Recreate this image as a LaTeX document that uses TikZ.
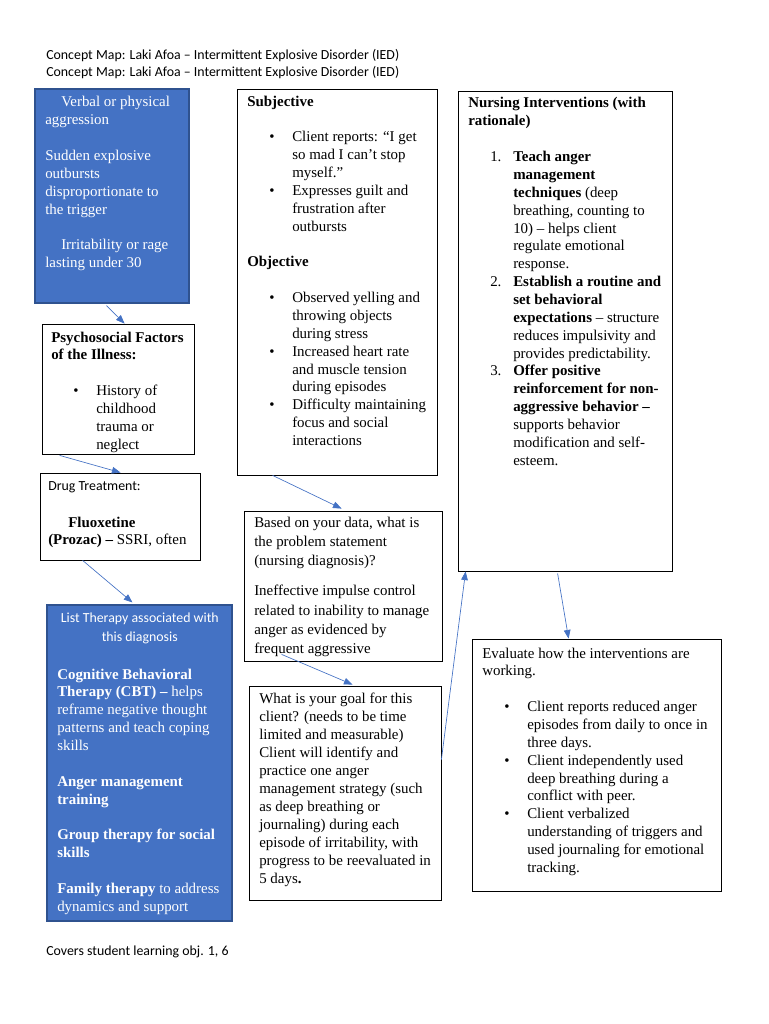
\documentclass[tikz,border=0pt]{standalone}
\usepackage{fontspec}
\setmainfont{Liberation Serif}
\newfontfamily\calfont{Carlito}
\usetikzlibrary{fit,calc,arrows.meta}

\definecolor{mapblue}{RGB}{68,114,196}
\definecolor{mapedge}{RGB}{47,82,143}

% bullet / number column and hanging indent
\newcommand{\itm}[1]{\hspace*{16.5pt}\makebox[17.25pt][l]{#1}}
\newcommand{\ind}{\hspace*{33.75pt}}

\tikzset{
  plainbox/.style={draw=black, line width=0.6pt, inner sep=0pt},
  bluebox/.style={draw=mapedge, fill=mapblue, line width=0.8pt, inner sep=0pt},
  txt/.style={anchor=base west, inner sep=0pt, font=\fontsize{11.2}{13.4}\selectfont},
  caltxt/.style={txt, font=\calfont\fontsize{10.4}{12.75}\selectfont},
  link/.style={draw=mapblue, line width=0.5pt, -{Triangle[length=6.5pt,width=5pt]}},
}

\begin{document}
\begin{tikzpicture}[x=0.75pt,y=-0.75pt]
\useasboundingbox (0,0) rectangle (768,1024);

% heading and footer
\node[caltxt] (head) at (46,60) {\parbox[t]{400pt}{Concept Map: Laki Afoa – Intermittent Explosive Disorder (IED)\\
  Concept Map: Laki Afoa – Intermittent Explosive Disorder (IED)}};
\node[caltxt] (foot) at (46,955) {Covers student learning obj. 1, 6};

% left column
\node[bluebox, fit={(35,89)(189,303)}] (aggr) {};
\node[txt, text=white] (aggrtxt) at (45,107) {\parbox[t]{300pt}{\hspace*{12pt}Verbal or physical\\
  aggression\\[13.4pt]
  Sudden explosive\\
  outbursts\\
  disproportionate to\\
  the trigger\\[13.4pt]
  \hspace*{12pt}Irritability or rage\\
  lasting under 30}};

\node[plainbox, fit={(42,324)(194,454)}] (psych) {};
\node[txt] (psychtxt) at (51,342) {\parbox[t]{300pt}{\textbf{Psychosocial Factors}\\
  \textbf{of the Illness:}\\[13.4pt]
  \itm{\textbullet}History of\\
  \ind childhood\\
  \ind trauma or\\
  \ind neglect}};

\node[plainbox, fit={(40,473)(200,560)}] (drug) {};
\node[caltxt] (drughead) at (48,490) {Drug Treatment:};
\node[txt] (drugtxt) at (48,527) {\parbox[t]{300pt}{\hspace*{15pt}\textbf{Fluoxetine}\\
  \textbf{(Prozac) –} SSRI, often}};

\node[bluebox, fit={(47,605)(232,921)}] (ther) {};
\node[caltxt, text=white, font=\calfont\fontsize{10.4}{14.25}\selectfont] (therhead) at (47,622)
  {\parbox[t]{138.75pt}{\centering List Therapy associated with\\ this diagnosis}};
\node[txt, text=white] (thertxt) at (57,679) {\parbox[t]{300pt}{\textbf{Cognitive Behavioral}\\
  \textbf{Therapy (CBT) –} helps\\
  reframe negative thought\\
  patterns and teach coping\\
  skills\\[13.4pt]
  \textbf{Anger management}\\
  \textbf{training}\\[13.4pt]
  \textbf{Group therapy for social}\\
  \textbf{skills}\\[13.4pt]
  \textbf{Family therapy} to address\\
  dynamics and support}};

% middle column
\node[plainbox, fit={(237,89)(437,475)}] (subj) {};
\node[txt] (subjtxt) at (247,106) {\parbox[t]{300pt}{\textbf{Subjective}\\[13.4pt]
  \itm{\textbullet}Client reports: “I get\\
  \ind so mad I can’t stop\\
  \ind myself.”\\
  \itm{\textbullet}Expresses guilt and\\
  \ind frustration after\\
  \ind outbursts\\[13.4pt]
  \textbf{Objective}\\[13.4pt]
  \itm{\textbullet}Observed yelling and\\
  \ind throwing objects\\
  \ind during stress\\
  \itm{\textbullet}Increased heart rate\\
  \ind and muscle tension\\
  \ind during episodes\\
  \itm{\textbullet}Difficulty maintaining\\
  \ind focus and social\\
  \ind interactions}};

\node[plainbox, fit={(244,511)(442,661)}] (prob) {};
\node[txt, font=\fontsize{11.2}{14.5}\selectfont] (probtxt) at (254,527) {\parbox[t]{300pt}{Based on your data, what is\\
  the problem statement\\
  (nursing diagnosis)?\\[8pt]
  Ineffective impulse control\\
  related to inability to manage\\
  anger as evidenced by\\
  frequent aggressive}};

\node[plainbox, fit={(249,686)(441,900)}] (goal) {};
\node[txt, font=\fontsize{11.2}{13.5}\selectfont] (goaltxt) at (259,703) {\parbox[t]{300pt}{What is your goal for this\\
  client? (needs to be time\\
  limited and measurable)\\
  Client will identify and\\
  practice one anger\\
  management strategy (such\\
  as deep breathing or\\
  journaling) during each\\
  episode of irritability, with\\
  progress to be reevaluated in\\
  5 days\textbf{.}}};

% right column
\node[plainbox, fit={(458,91)(672,571)}] (nurs) {};
\node[txt] (nurstxt) at (468,108) {\parbox[t]{300pt}{\textbf{Nursing Interventions (with}\\
  \textbf{rationale)}\\[13.4pt]
  \itm{1.}\textbf{Teach anger}\\
  \ind\textbf{management}\\
  \ind\textbf{techniques} (deep\\
  \ind breathing, counting to\\
  \ind 10) – helps client\\
  \ind regulate emotional\\
  \ind response.\\
  \itm{2.}\textbf{Establish a routine and}\\
  \ind\textbf{set behavioral}\\
  \ind\textbf{expectations} – structure\\
  \ind reduces impulsivity and\\
  \ind provides predictability.\\
  \itm{3.}\textbf{Offer positive}\\
  \ind\textbf{reinforcement for non-}\\
  \ind\textbf{aggressive behavior –}\\
  \ind supports behavior\\
  \ind modification and self-\\
  \ind esteem.}};

\node[plainbox, fit={(472,639)(721,891)}] (eval) {};
\node[txt] (evaltxt) at (482,658) {\parbox[t]{300pt}{Evaluate how the interventions are\\
  working.\\[13.4pt]
  \itm{\textbullet}Client reports reduced anger\\
  \ind episodes from daily to once in\\
  \ind three days.\\
  \itm{\textbullet}Client independently used\\
  \ind deep breathing during a\\
  \ind conflict with peer.\\
  \itm{\textbullet}Client verbalized\\
  \ind understanding of triggers and\\
  \ind used journaling for emotional\\
  \ind tracking.}};

% links
\draw[link] ($(aggr.south west)+(72,2)$) -- ($(psych.north west)+(83,0)$);
\draw[link] ($(psych.south west)+(18,1)$) -- ($(drug.north west)+(81,0)$);
\draw[link] ($(drug.south west)+(43,0)$) -- ($(ther.north west)+(86,-2)$);
\draw[link] ($(subj.south west)+(36,0)$) -- ($(prob.north west)+(98,-2)$);
\draw[link] ($(prob.south west)+(38,-7)$) -- ($(goal.north west)+(104,-1)$);
\draw[link] ($(goal.north east)+(0,74)$) -- ($(nurs.south west)+(8,0)$);
\draw[link] ($(nurs.south west)+(100,2)$) -- ($(eval.north west)+(97,0)$);
\end{tikzpicture}
\end{document}
